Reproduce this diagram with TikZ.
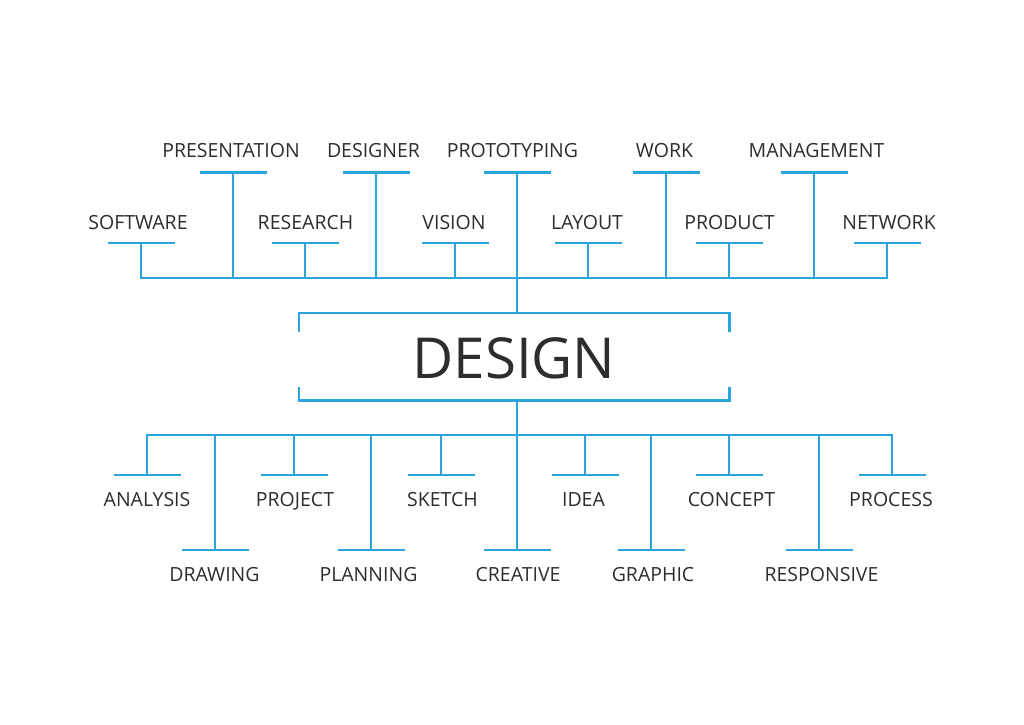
\documentclass[tikz,border=0pt]{standalone}
\usepackage{fontspec}
\setmainfont{Open Sans}
\definecolor{lineblue}{HTML}{2AA4DD}
\definecolor{txt}{HTML}{2D2D2D}
\begin{document}
\begin{tikzpicture}[x=1pt,y=-1pt,
  ln/.style={draw=lineblue, line width=2.6pt, line join=miter},
  bar/.style={fill=lineblue, inner sep=0pt, minimum width=67pt, minimum height=2.6pt, draw=none},
  lbl/.style={font=\fontsize{19.5}{22}\selectfont, text=txt, anchor=base, inner sep=0pt},
  big/.style={font=\fontsize{56.5}{60}\selectfont, text=txt, anchor=base, inner sep=0pt}]
\useasboundingbox[fill=white] (0,0) rectangle (1024,724);
\coordinate (tb) at (0,278);
\coordinate (bb) at (0,435);
% top long items
\foreach \n/\x/\lx/\t in {pres/233/231/PRESENTATION, desr/376/373.5/DESIGNER, proto/517/512.5/PROTOTYPING, work/666/664.5/WORK, mgmt/814/816.5/MANAGEMENT}{
  \node[bar] (b-\n) at (\x,172.5) {};
  \node[lbl] (l-\n) at (\lx,157.5) {\t};
  \draw[ln] (b-\n.center) -- (b-\n.center |- tb);
}
% top short items
\foreach \n/\x/\lx/\t in {soft/141/138/SOFTWARE, res/305/305.5/RESEARCH, vis/455/454/VISION, lay/588/587/LAYOUT, prod/729/729.5/PRODUCT, net/887/889/NETWORK}{
  \node[bar] (b-\n) at (\x,243) {};
  \node[lbl] (l-\n) at (\lx,229) {\t};
  \draw[ln] (b-\n.center) -- (b-\n.center |- tb);
}
\draw[ln] (b-soft.center) -- (b-soft.center |- tb) -- (b-net.center |- tb) -- (b-net.center);
% bottom short items
\foreach \n/\x/\lx/\t in {ana/147/147/ANALYSIS, proj/294/295/PROJECT, sk/441/442.5/SKETCH, idea/585/583.5/IDEA, conc/729/731.5/CONCEPT, proc/892/891/PROCESS}{
  \node[bar] (b-\n) at (\x,475) {};
  \node[lbl] (l-\n) at (\lx,506) {\t};
  \draw[ln] (b-\n.center) -- (b-\n.center |- bb);
}
% bottom long items
\foreach \n/\x/\lx/\t in {drw/215/214.5/DRAWING, plan/371/368.5/PLANNING, crea/517/518/CREATIVE, graph/651/653/GRAPHIC, resp/819/821.5/RESPONSIVE}{
  \node[bar] (b-\n) at (\x,550) {};
  \node[lbl] (l-\n) at (\lx,581) {\t};
  \draw[ln] (b-\n.center) -- (b-\n.center |- bb);
}
\draw[ln] (b-ana.center) -- (b-ana.center |- bb) -- (b-proc.center |- bb) -- (b-proc.center);
% central box
\node[minimum width=430pt, minimum height=87pt, inner sep=0pt] (box) at (514,356.5) {};
\node[big] (design) at (514,378) {DESIGN};
\draw[ln] ([yshift=-19pt]box.north west) -- (box.north west) -- (box.north east) -- ([yshift=-19pt]box.north east);
\draw[ln] ([yshift=13pt]box.south west) -- (box.south west) -- (box.south east) -- ([yshift=13pt]box.south east);
\draw[ln] (b-proto.center |- tb) -- (b-proto.center |- box.north);
\draw[ln] (b-crea.center |- box.south) -- (b-crea.center |- bb);
\end{tikzpicture}
\end{document}
